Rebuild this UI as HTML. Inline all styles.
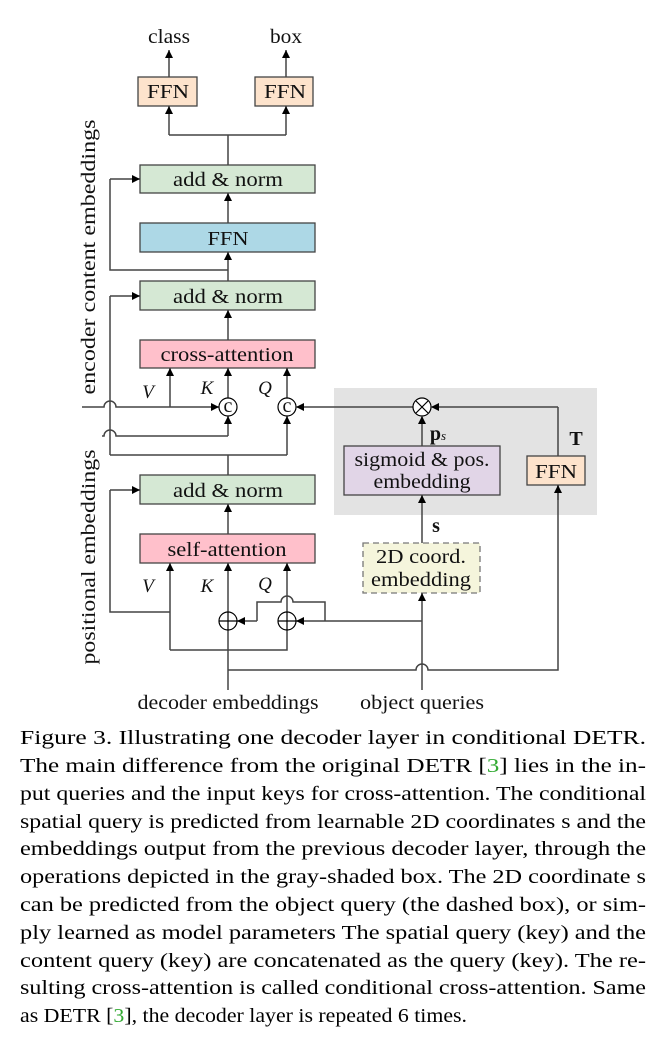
<!DOCTYPE html>
<html><head><meta charset="utf-8"><style>
html,body{margin:0;padding:0;background:#fff;}
svg{display:block;}
.b{font-family:"Liberation Serif",serif;font-size:20px;fill:#111;text-anchor:middle;}
.i{font-family:"Liberation Serif",serif;font-size:19px;font-style:italic;fill:#111;text-anchor:middle;}
.c{font-family:"Liberation Serif",serif;font-size:20px;fill:#000;}
.l{stroke:#444;stroke-width:1.5;fill:none;}
</style></head><body>
<svg width="665" height="1056" viewBox="0 0 665 1056" xmlns="http://www.w3.org/2000/svg">
<defs>
<marker id="a" viewBox="0 0 10 10" refX="10" refY="5" markerWidth="10" markerHeight="8" markerUnits="userSpaceOnUse" orient="auto"><path d="M0,0 L10,5 L0,10 z" fill="#000"/></marker>
</defs>
<rect x="334" y="388" width="263" height="127" fill="#e3e3e3"/>

<text class="b" font-size="21" textLength="275" lengthAdjust="spacingAndGlyphs" transform="translate(95,257) rotate(-90)">encoder content embeddings</text>
<text class="b" font-size="21" textLength="215" lengthAdjust="spacingAndGlyphs" transform="translate(95,557) rotate(-90)">positional embeddings</text>

<text class="b" x="169" y="43" textLength="42" lengthAdjust="spacingAndGlyphs">class</text>
<text class="b" x="286" y="43" textLength="32" lengthAdjust="spacingAndGlyphs">box</text>
<line class="l" x1="169" y1="77" x2="169" y2="50" marker-end="url(#a)"/>
<line class="l" x1="286" y1="77" x2="286" y2="50" marker-end="url(#a)"/>
<rect x="138" y="77" width="59" height="29" fill="#fde3cc" stroke="#444" stroke-width="1.3"/>
<text class="b" x="168" y="98" textLength="42" lengthAdjust="spacingAndGlyphs">FFN</text>
<rect x="255" y="77" width="58" height="29" fill="#fde3cc" stroke="#444" stroke-width="1.3"/>
<text class="b" x="285" y="98" textLength="42" lengthAdjust="spacingAndGlyphs">FFN</text>
<path class="l" d="M228,165 V135 M169,135 H286"/>
<line class="l" x1="169" y1="135" x2="169" y2="106" marker-end="url(#a)"/>
<line class="l" x1="286" y1="135" x2="286" y2="106" marker-end="url(#a)"/>

<rect x="140" y="165" width="175" height="28" fill="#d5e8d4" stroke="#444" stroke-width="1.3"/>
<text class="b" x="228" y="186" textLength="110" lengthAdjust="spacingAndGlyphs">add &amp; norm</text>
<rect x="140" y="223" width="175" height="29" fill="#add8e6" stroke="#444" stroke-width="1.3"/>
<text class="b" x="228" y="245" textLength="41" lengthAdjust="spacingAndGlyphs">FFN</text>
<rect x="140" y="281" width="175" height="29" fill="#d5e8d4" stroke="#444" stroke-width="1.3"/>
<text class="b" x="228" y="303" textLength="110" lengthAdjust="spacingAndGlyphs">add &amp; norm</text>
<rect x="140" y="340" width="175" height="28" fill="#ffc0cb" stroke="#444" stroke-width="1.3"/>
<text class="b" x="227" y="361" textLength="133" lengthAdjust="spacingAndGlyphs">cross-attention</text>
<rect x="140" y="475" width="175" height="29" fill="#d5e8d4" stroke="#444" stroke-width="1.3"/>
<text class="b" x="228" y="497" textLength="110" lengthAdjust="spacingAndGlyphs">add &amp; norm</text>
<rect x="140" y="534" width="175" height="29" fill="#ffc0cb" stroke="#444" stroke-width="1.3"/>
<text class="b" x="227" y="556" textLength="119" lengthAdjust="spacingAndGlyphs">self-attention</text>

<line class="l" x1="228" y1="223" x2="228" y2="193" marker-end="url(#a)"/>
<line class="l" x1="228" y1="281" x2="228" y2="252" marker-end="url(#a)"/>
<line class="l" x1="228" y1="340" x2="228" y2="310" marker-end="url(#a)"/>
<line class="l" x1="228" y1="534" x2="228" y2="504" marker-end="url(#a)"/>
<path class="l" d="M228,270 H110 V179"/><line class="l" x1="110" y1="179" x2="140" y2="179" marker-end="url(#a)"/>
<path class="l" d="M228,475 V455 M110,455 H287 M110,455 V296"/><line class="l" x1="110" y1="296" x2="140" y2="296" marker-end="url(#a)"/>
<path class="l" d="M170,612 H110 V490"/><line class="l" x1="110" y1="490" x2="140" y2="490" marker-end="url(#a)"/>

<path class="l" d="M82,407 H104 A6,6 0 0 1 116,407 H170"/>
<line class="l" x1="170" y1="407" x2="219" y2="407" marker-end="url(#a)"/>
<line class="l" x1="170" y1="407" x2="170" y2="368" marker-end="url(#a)"/>
<path class="l" d="M102,436 H104 A6,6 0 0 1 116,436 H228"/>
<line class="l" x1="228" y1="436" x2="228" y2="416" marker-end="url(#a)"/>
<line class="l" x1="287" y1="455" x2="287" y2="416" marker-end="url(#a)"/>
<line class="l" x1="228" y1="398" x2="228" y2="368" marker-end="url(#a)"/>
<line class="l" x1="287" y1="398" x2="287" y2="368" marker-end="url(#a)"/>
<circle cx="228" cy="407" r="9" fill="#fff" stroke="#000" stroke-width="1.2"/>
<text x="228" y="412" class="b" font-size="14">c</text>
<circle cx="287" cy="407" r="9" fill="#fff" stroke="#000" stroke-width="1.2"/>
<text x="287" y="412" class="b" font-size="14">c</text>
<text class="i" x="148" y="398">V</text>
<text class="i" x="207" y="394">K</text>
<text class="i" x="265" y="394">Q</text>
<line class="l" x1="413" y1="407" x2="296" y2="407" marker-end="url(#a)"/>

<circle cx="422" cy="407" r="9" fill="#fff" stroke="#000" stroke-width="1.2"/>
<path d="M416,401 L428,413 M428,401 L416,413" stroke="#000" stroke-width="1.2"/>
<path class="l" d="M558,456 V407"/><line class="l" x1="558" y1="407" x2="431" y2="407" marker-end="url(#a)"/>
<rect x="344" y="446" width="156" height="49" fill="#e1d5e7" stroke="#444" stroke-width="1.3"/>
<text class="b" x="422" y="466" textLength="135" lengthAdjust="spacingAndGlyphs">sigmoid &amp; pos.</text>
<text class="b" x="422" y="488" textLength="97" lengthAdjust="spacingAndGlyphs">embedding</text>
<line class="l" x1="422" y1="446" x2="422" y2="416" marker-end="url(#a)"/>
<text class="b" x="438" y="440" font-weight="bold">p<tspan font-size="13" font-style="italic" font-weight="normal">s</tspan></text>
<rect x="527" y="456" width="58" height="29" fill="#fde3cc" stroke="#444" stroke-width="1.3"/>
<text class="b" x="556" y="478" textLength="42" lengthAdjust="spacingAndGlyphs">FFN</text>
<text class="b" x="576" y="445" font-weight="bold">T</text>
<text class="b" x="436" y="532" font-weight="bold">s</text>
<line class="l" x1="422" y1="543" x2="422" y2="495" marker-end="url(#a)"/>
<rect x="363" y="543" width="117" height="50" fill="#f5f5dc" stroke="#777" stroke-width="1.3" stroke-dasharray="6,4"/>
<text class="b" x="421" y="563" textLength="90" lengthAdjust="spacingAndGlyphs">2D coord.</text>
<text class="b" x="421" y="586" textLength="100" lengthAdjust="spacingAndGlyphs">embedding</text>

<line class="l" x1="170" y1="650" x2="170" y2="563" marker-end="url(#a)"/>
<path class="l" d="M170,650 H287 V630"/>
<line class="l" x1="228" y1="690" x2="228" y2="630"/>
<line class="l" x1="228" y1="612" x2="228" y2="563" marker-end="url(#a)"/>
<line class="l" x1="287" y1="612" x2="287" y2="563" marker-end="url(#a)"/>
<path class="l" d="M422,690 V621"/><line class="l" x1="422" y1="621" x2="422" y2="593" marker-end="url(#a)"/>
<line class="l" x1="422" y1="621" x2="296" y2="621" marker-end="url(#a)"/>
<path class="l" d="M325,621 V602 H293 A6,6 0 0 0 281,602 H257 V621"/>
<line class="l" x1="257" y1="621" x2="237" y2="621" marker-end="url(#a)"/>
<path class="l" d="M228,670 H416 A6,6 0 0 1 428,670 H558 V485"/>
<line class="l" x1="558" y1="500" x2="558" y2="485" marker-end="url(#a)"/>
<circle cx="228" cy="621" r="9" fill="#fff" stroke="#000" stroke-width="1.2"/>
<path d="M219,621 H237 M228,612 V630" stroke="#000" stroke-width="1.2"/>
<circle cx="287" cy="621" r="9" fill="#fff" stroke="#000" stroke-width="1.2"/>
<path d="M278,621 H296 M287,612 V630" stroke="#000" stroke-width="1.2"/>
<text class="i" x="148" y="592">V</text>
<text class="i" x="207" y="592">K</text>
<text class="i" x="265" y="590">Q</text>
<text class="b" x="228" y="709" textLength="181" lengthAdjust="spacingAndGlyphs">decoder embeddings</text>
<text class="b" x="422" y="709" textLength="124" lengthAdjust="spacingAndGlyphs">object queries</text>

<g class="c">
<text x="20" y="744" textLength="626" lengthAdjust="spacingAndGlyphs">Figure 3. Illustrating one decoder layer in conditional DETR.</text>
<text x="20" y="772" textLength="626" lengthAdjust="spacingAndGlyphs">The main difference from the original DETR [<tspan fill="#3a3">3</tspan>] lies in the in-</text>
<text x="20" y="800" textLength="626" lengthAdjust="spacingAndGlyphs">put queries and the input keys for cross-attention. The conditional</text>
<text x="20" y="828" textLength="626" lengthAdjust="spacingAndGlyphs">spatial query is predicted from learnable 2D coordinates s and the</text>
<text x="20" y="855" textLength="626" lengthAdjust="spacingAndGlyphs">embeddings output from the previous decoder layer, through the</text>
<text x="20" y="883" textLength="626" lengthAdjust="spacingAndGlyphs">operations depicted in the gray-shaded box. The 2D coordinate s</text>
<text x="20" y="911" textLength="626" lengthAdjust="spacingAndGlyphs">can be predicted from the object query (the dashed box), or sim-</text>
<text x="20" y="939" textLength="626" lengthAdjust="spacingAndGlyphs">ply learned as model parameters The spatial query (key) and the</text>
<text x="20" y="967" textLength="626" lengthAdjust="spacingAndGlyphs">content query (key) are concatenated as the query (key). The re-</text>
<text x="20" y="994" textLength="626" lengthAdjust="spacingAndGlyphs">sulting cross-attention is called conditional cross-attention. Same</text>
<text x="20" y="1022" textLength="447" lengthAdjust="spacingAndGlyphs">as DETR [<tspan fill="#3a3">3</tspan>], the decoder layer is repeated 6 times.</text>
</g>
</svg>
</body></html>
